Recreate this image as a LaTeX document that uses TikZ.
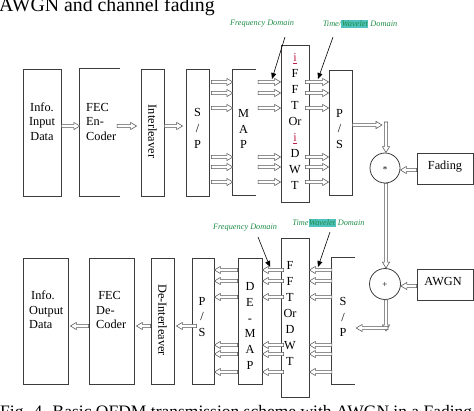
\documentclass[tikz,border=0pt]{standalone}
\usepackage{fontspec}
\setmainfont{Liberation Serif}
\usetikzlibrary{arrows.meta,calc}
\definecolor{lblc}{RGB}{30,140,70}
\definecolor{hil}{RGB}{80,195,190}
\definecolor{edgec}{RGB}{60,60,60}
\definecolor{arrc}{RGB}{85,85,85}
\definecolor{redi}{RGB}{190,30,70}
\newcommand\redi{\textcolor{redi}{\underline{i}}}
\newcommand\wav{{\setlength{\fboxsep}{0.6pt}\colorbox{hil}{Wavelet}}}
\newcommand\HArr[3]{\draw[harr] let \p1=#1, \p2=#2, \n1={sign(\x2-\x1)} in
 (\x1,{-(#3)*1pt+1.6pt}) -- ({\x2-6*(\n1)},{-(#3)*1pt+1.6pt}) -- ({\x2-6*(\n1)},{-(#3)*1pt+3.6pt}) -- (\x2,{-(#3)*1pt}) -- ({\x2-6*(\n1)},{-(#3)*1pt-3.6pt}) -- ({\x2-6*(\n1)},{-(#3)*1pt-1.6pt}) -- (\x1,{-(#3)*1pt-1.6pt}) -- cycle;}
\newcommand\VArr[3]{\draw[harr] let \p1=#1, \p2=#2, \n1={sign(\y2-\y1)} in
 ({(#3)*1pt-1.6pt},\y1) -- ({(#3)*1pt-1.6pt},{\y2-6*(\n1)}) -- ({(#3)*1pt-3.6pt},{\y2-6*(\n1)}) -- ({(#3)*1pt},\y2) -- ({(#3)*1pt+3.6pt},{\y2-6*(\n1)}) -- ({(#3)*1pt+1.6pt},{\y2-6*(\n1)}) -- ({(#3)*1pt+1.6pt},\y1) -- cycle;}
\begin{document}
\begin{tikzpicture}[x=1pt,y=-1pt,
  box/.style={draw=edgec, line width=0.8pt, inner sep=0pt},
  obox/.style={inner sep=0pt},
  side/.style={draw=edgec, line width=0.8pt},
  harr/.style={draw=arrc, line width=0.55pt, fill=white},
  lbl/.style={font=\fontsize{8.3}{10}\selectfont\itshape, text=lblc, inner sep=0pt},
  ptr/.style={draw=black, line width=0.6pt, -{Triangle[length=6pt,width=5pt]}},
  txt/.style={inner sep=0pt, font=\fontsize{12.3}{14.5}\selectfont},
  stk/.style={inner sep=0pt, align=center, font=\fontsize{12.3}{15.6}\selectfont},
  ]
\useasboundingbox (0,0) rectangle (474,410);
\clip (0,0) rectangle (474,410);

% titles
\node[anchor=base west, inner sep=0pt, font=\fontsize{19.8}{19.8}\selectfont] (title) at (-1,11) {AWGN and channel fading};
\node[anchor=base west, inner sep=0pt, font=\fontsize{17.5}{17.5}\selectfont] (cap) at (0,417) {Fig. 4. Basic OFDM transmission scheme with AWGN in a Fading};

% ---------- top row ----------
\node[box, minimum width=38, minimum height=127] (info1) at (42,132.5) {};
\node[txt, align=center] (info1t) at (42,121.5) {Info.\\Input\\Data};
\node[obox, minimum width=40, minimum height=127] (fec1) at (100,132.5) {};
\draw[side] (fec1.north east) -- (fec1.north west) -- (fec1.south west) -- (fec1.south east);
\node[txt, align=left, anchor=west] (fec1t) at (86,121.5) {FEC\\En-\\Coder};
\node[box, minimum width=23, minimum height=127] (int1) at (152.5,132.5) {};
\node[txt, rotate=-90] (int1t) at (152.5,131.5) {Interleaver};
\node[box, minimum width=23, minimum height=127] (sp1) at (197.5,132.5) {};
\node[stk] (sp1t) at (197.5,128.5) {S\\/\\P};
\node[obox, minimum width=23, minimum height=125] (map) at (244.5,132.5) {};
\draw[side] (map.north east) -- (map.north west) -- (map.south west) -- (map.south east);
\node[stk] (mapt) at (243.5,129) {M\\A\\P};
\node[box, minimum width=28, minimum height=157] (ifft) at (295,123.5) {};
\node[stk, font=\fontsize{12.3}{15.9}\selectfont] (ifftt) at (295,121.5) {\redi\\F\\F\\T\\Or\\\redi\\D\\W\\T};
\node[box, minimum width=23, minimum height=125] (ps1) at (340.5,132.5) {};
\node[stk] (ps1t) at (339.5,129) {P\\/\\S};

% channel
\node[box, circle, minimum size=30] (mul) at (385,168) {};
\node[inner sep=0pt, font=\fontsize{9}{9}\selectfont] (mult) at (385,169.5) {*};
\node[box, minimum width=56, minimum height=31] (fad) at (445,168.5) {};
\node[txt] (fadt) at (445,166.5) {Fading};
\node[box, circle, minimum size=31] (add) at (385,284) {};
\node[inner sep=0pt, font=\fontsize{9}{9}\selectfont] (addt) at (385,285) {+};
\node[box, minimum width=56, minimum height=31] (awgn) at (445,284.5) {};
\node[txt] (awgnt) at (443,281.5) {AWGN};
\coordinate (psout) at (382,125);
\coordinate (mulin) at (386,122);
\coordinate (addout) at (386,331);
\coordinate (addout2) at (388,328);

% ---------- bottom row ----------
\node[obox, minimum width=23, minimum height=126] (sp2) at (343.5,321) {};
\draw[side] (sp2.north east) -- (sp2.north west) -- (sp2.south west) -- (sp2.south east);
\node[stk] (sp2t) at (343,317) {S\\/\\P};
\node[box, minimum width=28, minimum height=159] (fft) at (295,317.5) {};
\node[stk, font=\fontsize{12.3}{16}\selectfont] (fftt) at (290,313) {F\\F\\T\\Or\\D\\W\\T};
\node[box, minimum width=24, minimum height=126] (demap) at (250,321) {};
\node[stk, font=\fontsize{12.3}{15.8}\selectfont] (demapt) at (250,326) {D\\E\\-\\M\\A\\P};
\node[box, minimum width=22, minimum height=126] (ps2) at (203,321) {};
\node[stk] (ps2t) at (202,317) {P\\/\\S};
\node[box, minimum width=23, minimum height=126] (deint) at (162.5,321) {};
\node[txt, rotate=-90] (deintt) at (162.5,320) {De-Interleaver};
\node[box, minimum width=45, minimum height=126] (fec2) at (111.5,321) {};
\node[txt, align=left, anchor=west] (fec2t) at (96,310) {\,FEC\\De-\\Coder};
\node[box, minimum width=45, minimum height=126] (info2) at (45.5,321) {};
\node[txt, align=left, anchor=west] (info2t) at (29,310) {\,Info.\\Output\\Data};

% ---------- arrows top ----------
\HArr{(info1.east)}{(fec1.west)}{126}
\HArr{([xshift=-3pt]fec1.east)}{([xshift=-4pt]int1.west)}{126}
\HArr{(int1.east)}{([xshift=-3pt]sp1.west)}{126}
\foreach \yy in {82,93,108,157,167,182}{
  \HArr{([xshift=2pt]sp1.east)}{(map.west)}{\yy}
  \HArr{([xshift=2pt]map.east)}{(ifft.west)}{\yy}
  \HArr{([xshift=-4pt]ifft.east)}{(ps1.west)}{\yy}
}
\HArr{(ps1.east)}{(psout)}{125}
\VArr{(mulin)}{(mul.north)}{386}
\HArr{(fad.west)}{(mul.east)}{170}
\VArr{(mul.south)}{(add.north)}{386}
\HArr{(awgn.west)}{(add.east)}{286}
\VArr{(add.south)}{(addout)}{386}
\HArr{(addout2)}{([xshift=1pt]sp2.east)}{328}

% ---------- arrows bottom ----------
\foreach \yy in {270,281,297,345,354,372}{
  \HArr{(sp2.west)}{(fft.east)}{\yy}
  \HArr{([xshift=3pt]fft.west)}{(demap.east)}{\yy}
  \HArr{(demap.west)}{(ps2.east)}{\yy}
}
\HArr{([xshift=5pt]ps2.west)}{([xshift=2pt]deint.east)}{326}
\HArr{(deint.west)}{([xshift=2pt]fec2.east)}{326}
\HArr{(fec2.west)}{([xshift=2pt]info2.east)}{326}

% ---------- domain labels ----------
\node[lbl] (fd1) at (262,24) {Frequency Domain};
\node[lbl] (td1) at (360,24) {Time/\wav{} Domain};
\coordinate (fd1a) at (285,37); \coordinate (fd1b) at (272,79);
\coordinate (td1a) at (333,37); \coordinate (td1b) at (318,79);
\draw[ptr] (fd1a) -- (fd1b);
\draw[ptr] (td1a) -- (td1b);
\node[lbl] (fd2) at (245,228) {Frequency Domain};
\node[lbl] (td2) at (328.5,223) {Time\wav{} Domain};
\coordinate (fd2a) at (258,237); \coordinate (fd2b) at (270,267);
\coordinate (td2a) at (330,232); \coordinate (td2b) at (318,267);
\draw[ptr] (fd2a) -- (fd2b);
\draw[ptr] (td2a) -- (td2b);
\end{tikzpicture}
\end{document}
